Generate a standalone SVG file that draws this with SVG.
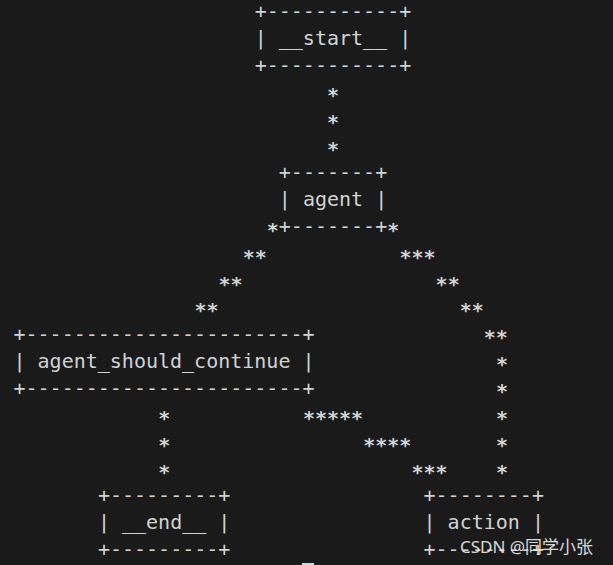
<svg xmlns="http://www.w3.org/2000/svg" width="613" height="565" viewBox="0 0 613 565">
<style>
text{font-family:"DejaVu Sans Mono","Liberation Mono",monospace;font-size:20px;fill:#d0d3d4;white-space:pre}
#connectors text{font-weight:bold}
.wm{font-family:"Noto Sans","Noto Sans CJK SC",sans-serif;font-size:17px;fill:#ececec;opacity:0.9}
</style>
<rect width="613" height="565" fill="#1a1a1a"/>
<g id="start">
<text x="254.7" y="18">+-----------+</text>
<text x="254.7" y="44.9">| __start__ |</text>
<text x="254.7" y="71.8">+-----------+</text>
</g>
<g id="agent">
<text x="278.82" y="179.4">+-------+</text>
<text x="278.82" y="206.3">| agent |</text>
<text x="278.82" y="233.2">+-------+</text>
</g>
<g id="agent_should_continue">
<text x="13.5" y="340.8">+-----------------------+</text>
<text x="13.5" y="367.7">| agent_should_continue |</text>
<text x="13.5" y="394.6">+-----------------------+</text>
</g>
<g id="end">
<text x="97.92" y="502.2">+---------+</text>
<text x="97.92" y="529.1">| __end__ |</text>
<text x="97.92" y="556">+---------+</text>
</g>
<g id="action">
<text x="423.54" y="502.2">+--------+</text>
<text x="423.54" y="529.1">| action |</text>
<text x="423.54" y="556">+--------+</text>
</g>
<g id="connectors" transform="translate(0,3.5)">
<text x="327.06" y="98.7">*</text>
<text x="327.06" y="125.6">*</text>
<text x="327.06" y="152.5">*</text>
<text x="266.76" y="233.2">*</text>
<text x="387.36" y="233.2">*</text>
<text x="242.64" y="260.1">**</text>
<text x="399.42" y="260.1">***</text>
<text x="218.52" y="287">**</text>
<text x="435.6" y="287">**</text>
<text x="194.4" y="313.9">**</text>
<text x="459.72" y="313.9">**</text>
<text x="483.84" y="340.8">**</text>
<text x="495.9" y="367.7">*</text>
<text x="495.9" y="394.6">*</text>
<text x="158.22" y="421.5">*</text>
<text x="302.94" y="421.5">*****</text>
<text x="495.9" y="421.5">*</text>
<text x="158.22" y="448.4">*</text>
<text x="363.24" y="448.4">****</text>
<text x="495.9" y="448.4">*</text>
<text x="158.22" y="475.3">*</text>
<text x="411.48" y="475.3">***</text>
<text x="495.9" y="475.3">*</text>
</g>
<rect x="302" y="563" width="12" height="2" fill="#d0d3d4"/>
<text class="wm" x="460" y="553">CSDN @同学小张</text>
</svg>
